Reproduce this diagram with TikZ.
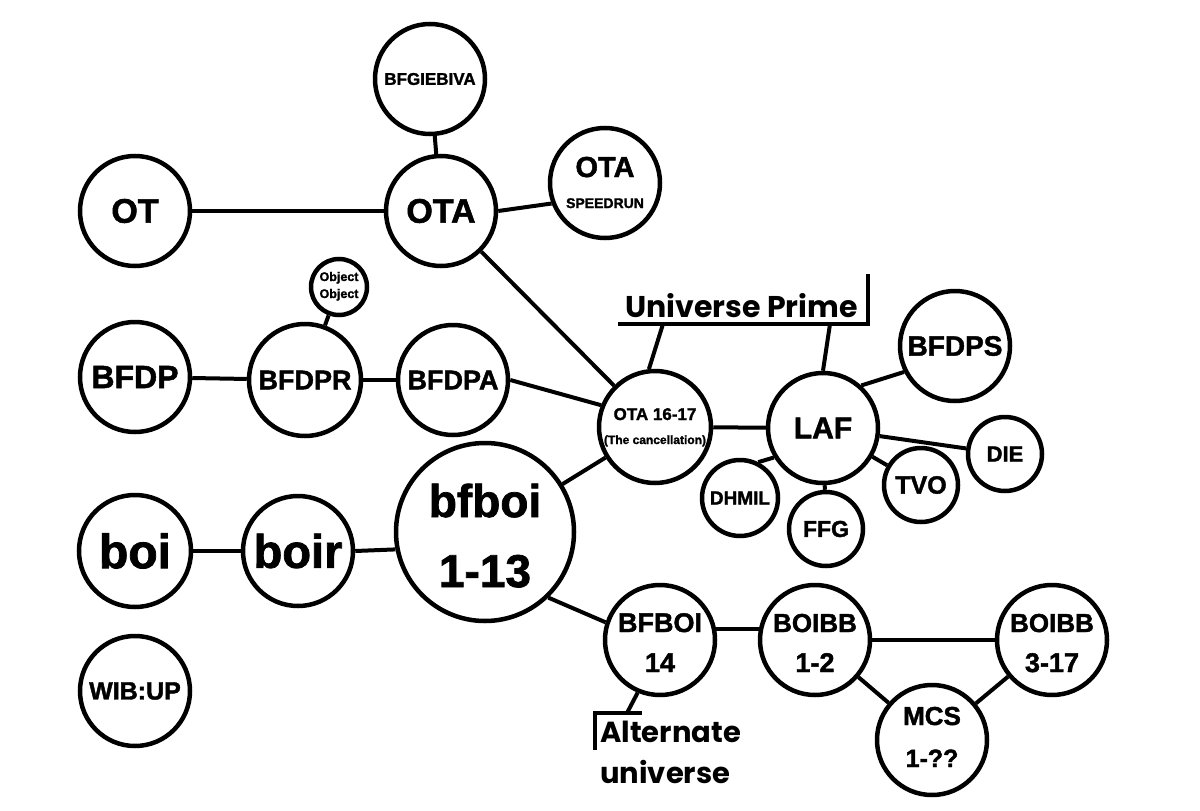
\documentclass[tikz,border=0pt]{standalone}
\usepackage{fontspec}
\setmainfont{Liberation Sans}[BoldFeatures={FakeBold=1.6}]
\newfontfamily\popfont{Poppins}
\newcommand{\fsz}[1]{\fontsize{#1}{#1}\selectfont}
\begin{document}
\begin{tikzpicture}[x=1pt,y=-1pt,
  circ/.style={draw, circle, line width=4.5pt, inner sep=0pt, font=\bfseries},
  lbl/.style={inner sep=0pt, font=\bfseries},
  conn/.style={line width=4pt},
  prime/.style={inner sep=0pt, font=\popfont\bfseries\fsz{30}}]
\useasboundingbox (0,0) rectangle (1200,811);

% circles
\node[circ,minimum size=110] (bfgie) at (430,79) {\fsz{17}BFGIEBIVA};
\node[circ,minimum size=110] (ota) at (441,211) {\fsz{34}OTA};
\node[circ,minimum size=110] (ot) at (135,211) {\fsz{34}OT};
\node[circ,minimum size=110] (speed) at (605,183) {};
\node[lbl,anchor=base] (speedA) at (605,177) {\fsz{29}OTA};
\node[lbl,anchor=base] (speedB) at (605,208) {\fsz{14}SPEEDRUN};
\node[circ,minimum size=56] (obj) at (339,287) {};
\node[lbl,anchor=base] (objA) at (339,281) {\fsz{12.5}Object};
\node[lbl,anchor=base] (objB) at (339,298) {\fsz{12.5}Object};
\node[circ,minimum size=110] (bfdp) at (135,377) {\fsz{32}BFDP};
\node[circ,minimum size=112] (bfdpr) at (305,380) {\fsz{27}BFDPR};
\node[circ,minimum size=110] (bfdpa) at (453,380) {\fsz{27}BFDPA};
\node[circ,minimum size=112] (ota16) at (655,427) {};
\node[lbl,anchor=base] (ota16A) at (655,420) {\fsz{17}OTA 16-17};
\node[lbl,anchor=base] (ota16B) at (655,444) {\fsz{12}(The cancellation)};
\node[circ,minimum size=110] (laf) at (823,428) {\fsz{30}LAF};
\node[circ,minimum size=110] (bfdps) at (955,346) {\fsz{28}BFDPS};
\node[circ,minimum size=74] (die) at (1005,454) {\fsz{22}DIE};
\node[circ,minimum size=74] (tvo) at (921,485) {\fsz{25}TVO};
\node[circ,minimum size=74] (ffg) at (826,529) {\fsz{23}FFG};
\node[circ,minimum size=76] (dhmil) at (740,498) {\fsz{19}DHMIL};
\node[circ,minimum size=178] (bfboi) at (485,532) {};
\node[lbl,anchor=base] (bfboiA) at (485,517) {\fsz{46}bfboi};
\node[lbl,anchor=base] (bfboiB) at (485,587) {\fsz{46}1-13};
\node[circ,minimum size=112] (boi) at (135,551) {\fsz{48}boi};
\node[circ,minimum size=110] (boir) at (298,551) {\fsz{47}boir};
\node[circ,minimum size=110] (wib) at (135,691) {\fsz{25}WIB:UP};
\node[circ,minimum size=110] (b14) at (660,640) {};
\node[lbl,anchor=base] (b14A) at (660,632) {\fsz{27}BFBOI};
\node[lbl,anchor=base] (b14B) at (660,672) {\fsz{27}14};
\node[circ,minimum size=110] (bb12) at (815,640) {};
\node[lbl,anchor=base] (bb12A) at (815,632) {\fsz{26}BOIBB};
\node[lbl,anchor=base] (bb12B) at (815,672) {\fsz{27}1-2};
\node[circ,minimum size=110] (bb317) at (1052,640) {};
\node[lbl,anchor=base] (bb317A) at (1052,632) {\fsz{26}BOIBB};
\node[lbl,anchor=base] (bb317B) at (1052,672) {\fsz{27}3-17};
\node[circ,minimum size=110] (mcs) at (932,740) {};
\node[lbl,anchor=base] (mcsA) at (932,725) {\fsz{26}MCS};
\node[lbl,anchor=base] (mcsB) at (932,767) {\fsz{25}1-??};

% connectors
\draw[conn] (ot) -- (ota);
\draw[conn] (bfgie) -- (ota);
\draw[conn] (ota.east) -- (speed.201);
\draw[conn] (ota) -- (ota16);
\draw[conn] (obj) -- (bfdpr);
\draw[conn] (bfdp) -- (bfdpr);
\draw[conn] (bfdpr) -- (bfdpa);
\draw[conn] (bfdpa.east) -- (ota16.158);
\draw[conn] (ota16) -- (laf);
\draw[conn] (laf.48) -- (bfdps.207);
\draw[conn] (laf) -- (die);
\draw[conn] (laf) -- (tvo);
\draw[conn] (laf) -- (ffg);
\draw[conn] (laf.211) -- (dhmil.63);
\draw[conn] (bfboi) -- (ota16);
\draw[conn] (boi) -- (boir);
\draw[conn] (boir.east) -- (bfboi.191);
\draw[conn] (bfboi.-46) -- (b14.162);
\draw[conn] (b14.11) -- (bb12.169);
\draw[conn] (bb12) -- (bb317);
\draw[conn] (bb12) -- (mcs);
\draw[conn] (mcs) -- (bb317);

% Universe Prime bracket
\coordinate (upL) at (618,324);
\coordinate (upR) at (868,324);
\coordinate (upT) at (868,274);
\coordinate (up1) at (663,324);
\coordinate (up2) at (830,324);
\draw[conn] (upL) -- (upR) -- (upT);
\draw[conn] (up1) -- (ota16.96);
\draw[conn] (up2) -- (laf.north);
\node[prime,anchor=base west] (uprime) at (625,317) {Universe Prime};

% Alternate universe bracket
\coordinate (alR) at (642,713);
\coordinate (alC) at (595,713);
\coordinate (alB) at (595,750);
\coordinate (al1) at (627,713);
\draw[conn] (alR) -- (alC) -- (alB);
\draw[conn] (al1) -- (b14.247);
\node[prime,anchor=base west,font=\popfont\bfseries\fsz{29}] (alt1) at (600,742) {Alternate};
\node[prime,anchor=base west,font=\popfont\bfseries\fsz{29}] (alt2) at (600,783) {universe};
\end{tikzpicture}
\end{document}
